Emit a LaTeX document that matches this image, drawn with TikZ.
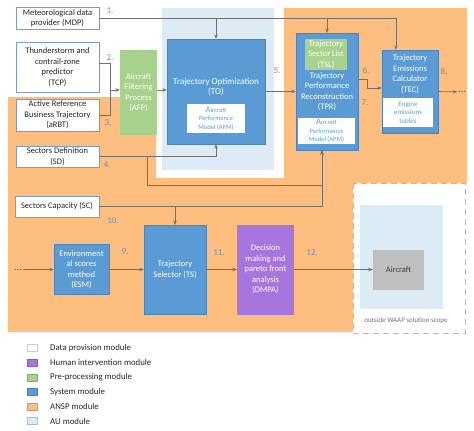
\documentclass[tikz,border=0pt]{standalone}
\usepackage{fontspec}
\setmainfont{Carlito}
\usetikzlibrary{arrows.meta,positioning,calc}

\definecolor{sysblue}{RGB}{91,155,213}
\definecolor{ansporange}{RGB}{253,190,128}
\definecolor{aublue}{RGB}{221,235,247}
\definecolor{prepgreen}{RGB}{169,209,142}
\definecolor{humpurple}{RGB}{167,117,222}
\definecolor{acgray}{RGB}{191,191,191}
\definecolor{boxedge}{RGB}{125,155,195}
\definecolor{numcol}{RGB}{118,142,182}
\definecolor{linkgray}{RGB}{118,112,106}

\begin{document}
\begin{tikzpicture}[
		x=1pt,y=-1pt,
		>={Stealth[length=4.5pt,width=3.5pt]},
		wh/.style 2 args={
			minimum width=#1pt,
			minimum height=#2pt
		},
		box/.style={
			align=center,
			inner sep=0pt,
			font=\fontsize{8.5}{10.5}\selectfont
		},
		datbox/.style={
			box,
			draw=boxedge,
			fill=white,
			line width=0.7pt,
			text=black!85
		},
		sysbox/.style={
			box,
			draw=sysblue!85!black,
			line width=0.3pt,
			fill=sysblue,
			text=white
		},
		prepbox/.style={
			box,
			fill=prepgreen,
			text=white
		},
		humbox/.style={
			box,
			fill=humpurple,
			text=white
		},
		inbox/.style={
			box,
			fill=white,
			text=sysblue,
			font=\fontsize{6.5}{8.5}\selectfont
		},
		title/.style={
			align=center,
			inner sep=0pt,
			text=white,
			font=\fontsize{8.5}{10.5}\selectfont
		},
		num/.style={
			inner sep=0pt,
			text=numcol,
			font=\fontsize{9}{10}\selectfont
		},
		link/.style={
			->,
			draw=linkgray,
			line width=0.65pt
		},
		legsq/.style={
			inner sep=0pt,
			minimum width=10pt,
			minimum height=7pt
		}
		]
		\useasboundingbox (0,0) rectangle (474,431);
		% regions
		\fill[ansporange] (8,97) -- (156,97) -- (156,178) -- (284,178) -- (284,8)
			-- (467,8) -- (467,183) -- (353,183) -- (353,332) -- (8,332) -- cycle;
		\fill[aublue] (162,8) rectangle (274,170);
		\draw[draw=gray!55,fill=white,line width=0.8pt,dash pattern=on 6pt off 4pt] (353,183) rectangle (465,333);
		\fill[aublue] (360,205) rectangle (443,309);
		\node[inner sep=0pt,text=gray!90!black,font=\fontsize{7}{8}\selectfont] (scope) at (406,321) {outside WAAP solution scope};

		% data provision
		\node[datbox,wh={83}{22}] (mdp) at (57.5,18) {Meteorological data\\provider (MDP)};
		\node[datbox,wh={83}{50}] (tcp) at (57.5,67) {Thunderstorm and\\contrail-zone\\predictor\\(TCP)};
		\node[datbox,wh={83}{32}] (arbt) at (57.5,115) {Active Reference\\Business Trajectory\\(aRBT)};
		\node[datbox,wh={83}{21}] (sd) at (57.5,156.5) {Sectors Definition\\(SD)};
		\node[datbox,wh={84}{21}] (sc) at (57,206.5) {Sectors Capacity (SC)};

		% modules
		\node[prepbox,wh={37}{85}] (afp) at (138.5,92.5) {Aircraft\\Filtering\\Process\\(AFP)};
		\node[sysbox,wh={98}{105}] (to) at (216,91.5) {};
		\node[title,font=\fontsize{9}{10}\selectfont] (totext) at (216,87) {Trajectory Optimization\\(TO)};
		\node[inbox,wh={58}{29}] (toapm) at (216,118.5) {{\fontsize{8.5}{8.5}\selectfont A}ircraft\\Performance\\Model (APM)};

		\node[sysbox,wh={62}{117}] (tpr) at (327,91.5) {};
		\node[prepbox,wh={42}{31}] (tsl) at (326,54.5) {Trajectory\\Sector List\\(TSL)};
		\node[title] (tprtext) at (327,91.5) {Trajectory\\Performance\\Reconstruction\\(TPR)};
		\node[inbox,wh={57}{26}] (tprapm) at (326.5,131) {{\fontsize{8.5}{8.5}\selectfont A}ircraft\\Performance\\Model (APM)};

		\node[sysbox,wh={56}{83}] (tec) at (410,91.5) {};
		\node[title] (tectext) at (410,74) {Trajectory\\Emissions\\Calculator\\(TEC)};
		\node[inbox,wh={50}{29},font=\fontsize{7}{8.5}\selectfont] (tecet) at (408,112.5) {Engine\\emissions\\tables};
		\node[inner sep=1pt,text=black!70] (more) at (462,92) {\dots};

		\node[inner sep=1pt,text=black!70] (start) at (18,269.5) {\dots};
		\node[sysbox,wh={55}{50}] (esm) at (81.5,269.5) {Environment\\al scores\\method\\(ESM)};
		\node[sysbox,wh={62}{89}] (ts) at (175,269.5) {Trajectory\\Selector (TS)};
		\node[humbox,wh={57}{90}] (dmpa) at (265.5,269.5) {Decision\\making and\\pareto front\\analysis\\(DMPA)};
		\node[box,fill=acgray,text=black!75,wh={51}{40}] (ac) at (398.5,269.5) {Aircraft};

		% connectors
		\coordinate (afpin) at (110,90);
		\coordinate (sdsplit) at (147,156.5);
		\draw[link] (mdp.east) -| ([xshift=14]tec.north west);
		\draw[link] (to.north |- mdp.east) -- (to.north);
		\draw[link] (tpr.north |- mdp.east) -- (tpr.north);
		\draw[link,-] ([yshift=4]tcp.east) -| (afpin);
		\draw[link,-] (arbt.east) -| (afpin);
		\draw[link] (afpin) -- (afpin -| afp.west);
		\draw[link] (afp.east |- afpin) -- (afpin -| to.west);
		\draw[link] (to.east) -- (to.east -| tpr.west);
		\draw[link] ([yshift=12.5]tpr.east) -- ++(9,0) |- ([yshift=3.5]tec.west);
		\draw[link] (tec.east) -- (more);
		\draw[link] (sd.east) -| (to.south);
		\draw[link] (sdsplit) -- ++(0,28.5) -| ([xshift=-5]tpr.south);
		\draw[link] (sc.east) -| ([xshift=-5]tpr.south);
		\draw[link] (ts.north |- sc.east) -- (ts.north);
		\draw[link] (start) -- (esm);
		\draw[link] (esm) -- (ts);
		\draw[link] (ts) -- (dmpa);
		\draw[link] (dmpa) -- (ac);

		% step numbers
		\node[num] (n1) at (110,11) {1.};
		\node[num] (n2) at (110,58) {2.};
		\node[num] (n3) at (108,123) {3.};
		\node[num] (n4) at (107,165) {4.};
		\node[num] (n5) at (277,71) {5.};
		\node[num] (n6) at (366,70) {6.};
		\node[num] (n7) at (365,103) {7.};
		\node[num] (n8) at (444,71) {8.};
		\node[num] (n9) at (125,252) {9.};
		\node[num] (n10) at (113,221) {10.};
		\node[num] (n11) at (219,253) {11.};
		\node[num] (n12) at (312,253) {12.};

		% legend
		\foreach \c/\t [count=\i] in {white/Data provision module,humpurple/Human intervention module,
			prepgreen/Pre-processing module,sysblue/System module,ansporange/ANSP module,aublue/AU module}{
			\node[legsq,fill=\c,draw=\c!80!black,line width=0.3pt] (sq\i) at (32,{333.4+14.6*\i}) {};
			\node[anchor=west,inner sep=0pt,text=black!85,font=\fontsize{8.8}{10}\selectfont] (leg\i) at (50,{333.4+14.6*\i}) {\t};
		}
		\end{tikzpicture}
\end{document}
